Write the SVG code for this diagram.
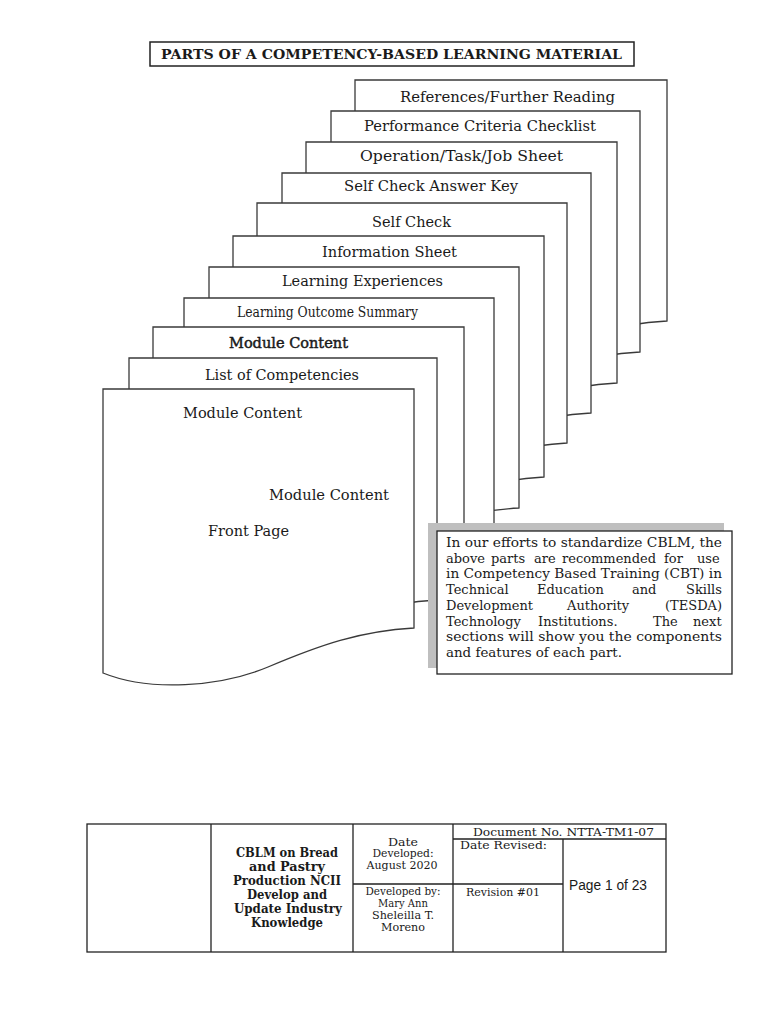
<svg xmlns="http://www.w3.org/2000/svg" width="768" height="1024" viewBox="0 0 768 1024">
<style>
.pg{fill:#fff;stroke:#3a3a3a;stroke-width:1.3}
.lbl{font-family:"DejaVu Serif","Liberation Serif",serif;font-size:14px;fill:#1a1a1a}
.bt{font-family:"DejaVu Serif","Liberation Serif",serif;font-size:13px;fill:#1a1a1a}
.ft{font-family:"DejaVu Serif","Liberation Serif",serif;font-size:11px;fill:#1a1a1a;text-anchor:middle}
.ftl{font-family:"DejaVu Serif","Liberation Serif",serif;font-size:11px;fill:#1a1a1a}
.fb{font-family:"DejaVu Serif","Liberation Serif",serif;font-size:12px;font-weight:bold;fill:#1a1a1a;text-anchor:middle}
.ln{stroke:#222;stroke-width:1.3;fill:none}
</style>
<rect width="768" height="1024" fill="#fff"/>

<g id="title">
<rect x="150" y="42" width="484" height="24" fill="#fff" stroke="#222" stroke-width="1.5"/>
<text x="161" y="59" font-family="DejaVu Serif, Liberation Serif, serif" font-size="13.5" font-weight="bold" fill="#1a1a1a" textLength="461" lengthAdjust="spacingAndGlyphs">PARTS OF A COMPETENCY-BASED LEARNING MATERIAL</text>
</g>

<g id="page-references">
<path class="pg" d="M355,80 H667 V321 C613,324 573,338 521,360 C473,380 403,385 355,366 Z"/>
<text class="lbl" x="400" y="102" textLength="215" lengthAdjust="spacingAndGlyphs">References/Further Reading</text>
</g>
<g id="page-performance">
<path class="pg" d="M331,111 H640 V352 C586,355 546,369 494,391 C446,411 376,416 331,397 Z"/>
<text class="lbl" x="364" y="131" textLength="232" lengthAdjust="spacingAndGlyphs">Performance Criteria Checklist</text>
</g>
<g id="page-operation">
<path class="pg" d="M306,142 H617 V383 C563,386 523,400 471,422 C423,442 353,447 306,428 Z"/>
<text class="lbl" x="360" y="161" textLength="203" lengthAdjust="spacingAndGlyphs">Operation/Task/Job Sheet</text>
</g>
<g id="page-answer-key">
<path class="pg" d="M282,173 H591 V413 C537,416 497,430 445,452 C397,472 327,477 282,458 Z"/>
<text class="lbl" x="344" y="191" textLength="174" lengthAdjust="spacingAndGlyphs">Self Check Answer Key</text>
</g>
<g id="page-self-check">
<path class="pg" d="M257,203 H567 V443 C513,446 473,460 421,482 C373,502 303,507 257,488 Z"/>
<text class="lbl" x="372" y="227" textLength="79" lengthAdjust="spacingAndGlyphs">Self Check</text>
</g>
<g id="page-information">
<path class="pg" d="M233,236 H544 V477 C490,480 450,494 398,516 C350,536 280,541 233,522 Z"/>
<text class="lbl" x="322" y="257" textLength="135" lengthAdjust="spacingAndGlyphs">Information Sheet</text>
</g>
<g id="page-experiences">
<path class="pg" d="M209,267 H519 V508 C465,511 425,525 373,547 C325,567 255,572 209,553 Z"/>
<text class="lbl" x="282" y="286" textLength="161" lengthAdjust="spacingAndGlyphs">Learning Experiences</text>
</g>
<g id="page-outcome-summary">
<path class="pg" d="M184,298 H494 V539 C440,542 400,556 348,578 C300,598 230,603 184,584 Z"/>
<text class="lbl" x="237" y="317" font-size="12" textLength="181" lengthAdjust="spacingAndGlyphs">Learning Outcome Summary</text>
</g>
<g id="page-module-content">
<path class="pg" d="M153,327 H464 V570 C410,573 370,587 318,609 C270,629 200,634 153,615 Z"/>
<text class="lbl" x="229" y="348" stroke="#1a1a1a" stroke-width="0.45" textLength="119" lengthAdjust="spacingAndGlyphs">Module Content</text>
</g>
<g id="page-competencies">
<path class="pg" d="M129,358 H437 V600 C383,603 343,617 291,639 C243,659 173,664 129,645 Z"/>
<text class="lbl" x="205" y="380" textLength="154" lengthAdjust="spacingAndGlyphs">List of Competencies</text>
</g>
<g id="page-front">
<path class="pg" d="M103,389 H414 V628 C360,631 320,645 268,667 C220,687 150,692 103,673 Z"/>
<text class="lbl" x="183" y="418" textLength="119" lengthAdjust="spacingAndGlyphs">Module Content</text>
<text class="lbl" x="269" y="500" textLength="120" lengthAdjust="spacingAndGlyphs">Module Content</text>
<text class="lbl" x="208" y="536" textLength="81" lengthAdjust="spacingAndGlyphs">Front Page</text>
</g>

<g id="note">
<rect x="428" y="523" width="296" height="145" fill="#bfbfbf"/>
<rect x="437" y="531" width="295" height="143" fill="#fff" stroke="#222" stroke-width="1.3"/>
<text class="bt" x="446" y="547" textLength="276" lengthAdjust="spacingAndGlyphs">In our efforts to standardize CBLM, the</text>
<text class="bt" y="563"><tspan x="446">above</tspan><tspan x="491">parts</tspan><tspan x="534">are</tspan><tspan x="562">recommended</tspan><tspan x="664">for</tspan><tspan x="697">use</tspan></text>
<text class="bt" x="446" y="578" textLength="276" lengthAdjust="spacingAndGlyphs">in Competency Based Training (CBT) in</text>
<text class="bt" y="594"><tspan x="446">Technical</tspan><tspan x="537">Education</tspan><tspan x="632">and</tspan><tspan x="686">Skills</tspan></text>
<text class="bt" y="610"><tspan x="446">Development</tspan><tspan x="567">Authority</tspan><tspan x="665">(TESDA)</tspan></text>
<text class="bt" y="626"><tspan x="446">Technology</tspan><tspan x="538">Institutions.</tspan><tspan x="653">The</tspan><tspan x="693">next</tspan></text>
<text class="bt" x="446" y="641" textLength="276" lengthAdjust="spacingAndGlyphs">sections will show you the components</text>
<text class="bt" x="446" y="657" textLength="176" lengthAdjust="spacingAndGlyphs">and features of each part.</text>
</g>

<g id="footer">
<rect class="ln" x="87" y="824" width="579" height="128"/>
<path class="ln" d="M211,824 V952 M353,824 V952 M453,824 V952 M563,839 V952 M453,839 H666 M353,884 H563"/>
<text class="fb" x="287" y="857" textLength="102" lengthAdjust="spacingAndGlyphs">CBLM on Bread</text>
<text class="fb" x="287" y="871" textLength="76" lengthAdjust="spacingAndGlyphs">and Pastry</text>
<text class="fb" x="287" y="885" textLength="108" lengthAdjust="spacingAndGlyphs">Production NCII</text>
<text class="fb" x="287" y="899" textLength="80" lengthAdjust="spacingAndGlyphs">Develop and</text>
<text class="fb" x="288" y="913" textLength="108" lengthAdjust="spacingAndGlyphs">Update Industry</text>
<text class="fb" x="287" y="927" textLength="72" lengthAdjust="spacingAndGlyphs">Knowledge</text>
<text class="ft" x="403" y="846" textLength="30" lengthAdjust="spacingAndGlyphs">Date</text>
<text class="ft" x="403" y="857" textLength="61" lengthAdjust="spacingAndGlyphs">Developed:</text>
<text class="ft" x="402" y="869" textLength="71" lengthAdjust="spacingAndGlyphs">August 2020</text>
<text class="ft" x="403" y="895" textLength="75" lengthAdjust="spacingAndGlyphs">Developed by:</text>
<text class="ft" x="403" y="907" textLength="50" lengthAdjust="spacingAndGlyphs">Mary Ann</text>
<text class="ft" x="403" y="919" textLength="62" lengthAdjust="spacingAndGlyphs">Sheleilla T.</text>
<text class="ft" x="403" y="931" textLength="44" lengthAdjust="spacingAndGlyphs">Moreno</text>
<text class="ftl" x="473" y="836" font-size="12" textLength="181" lengthAdjust="spacingAndGlyphs">Document No. NTTA-TM1-07</text>
<text class="ftl" x="460" y="849" textLength="87" lengthAdjust="spacingAndGlyphs">Date Revised:</text>
<text class="ftl" x="466" y="896" textLength="74" lengthAdjust="spacingAndGlyphs">Revision #01</text>
<text x="569" y="890" font-family="Liberation Sans, Arial, sans-serif" font-size="14" fill="#1a1a1a" textLength="78" lengthAdjust="spacingAndGlyphs">Page 1 of 23</text>
</g>
</svg>
